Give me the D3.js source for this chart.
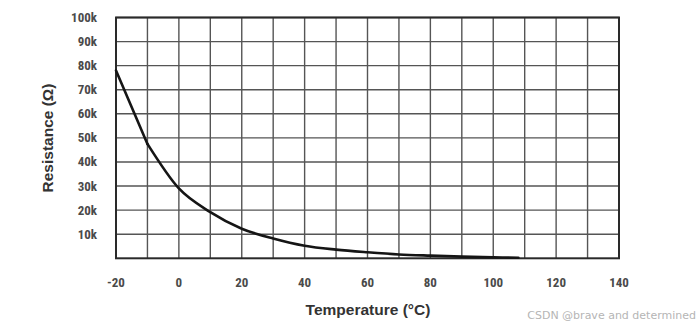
<!DOCTYPE html>
<html>
<head>
<meta charset="utf-8">
<script src="https://cdn.jsdelivr.net/npm/d3@7/dist/d3.min.js"></script>
<style>
  html, body { margin: 0; padding: 0; background: #fff; }
  svg { display: block; }
  .tick-label { font-family: "Liberation Sans Narrow", "Roboto Condensed", "Liberation Sans", sans-serif; font-weight: bold; font-size: 13px; fill: #4a4a4a; }
  .axis-title { font-family: "Liberation Sans Narrow", "Liberation Sans", sans-serif; font-weight: bold; font-size: 15.5px; fill: #333; }
</style>
</head>
<body>
<svg id="chart" width="698" height="330"></svg>
<script>
// NTC thermistor resistance vs temperature
const temperatures = [-20, -10, 0, 10, 20, 30, 40, 50, 60, 70, 80, 90, 100, 108];
const resistanceK  = [78, 47.5, 29, 19.2, 12.3, 8.2, 5.2, 3.6, 2.5, 1.6, 1.1, 0.7, 0.4, 0.2];

const xTicks = [-20, 0, 20, 40, 60, 80, 100, 120, 140];
const xGrid  = d3.range(-20, 141, 10);
const yTicks = [10, 20, 30, 40, 50, 60, 70, 80, 90, 100];
const yTickLabels = ["10k", "20k", "30k", "40k", "50k", "60k", "70k", "80k", "90k", "100k"];

const plotLeft = 116, plotRight = 619, plotTop = 17.5, plotBottom = 258.3;

const svg = d3.select("#chart");
const x = d3.scaleLinear().domain([-20, 140]).range([plotLeft, plotRight]);
const y = d3.scaleLinear().domain([0, 100]).range([plotBottom, plotTop]);

// grid
svg.append("g").selectAll("line").data(xGrid).join("line")
  .attr("x1", d => x(d)).attr("x2", d => x(d))
  .attr("y1", plotTop).attr("y2", plotBottom)
  .attr("stroke", "#555").attr("stroke-width", 1.4);
svg.append("g").selectAll("line").data(yTicks).join("line")
  .attr("x1", plotLeft).attr("x2", plotRight)
  .attr("y1", d => y(d)).attr("y2", d => y(d))
  .attr("stroke", "#555").attr("stroke-width", 1.4);

// frame
svg.append("rect")
  .attr("x", plotLeft).attr("y", plotTop)
  .attr("width", plotRight - plotLeft).attr("height", plotBottom - plotTop)
  .attr("fill", "none").attr("stroke", "#2a2a2a").attr("stroke-width", 2);

// curve: straight first segment, smooth from -10 °C on
const pts = temperatures.map((t, i) => [t, resistanceK[i]]);
const curveGroup = svg.append("g")
  .attr("fill", "none")
  .attr("stroke", "#151515")
  .attr("stroke-width", 2.6)
  .attr("stroke-linejoin", "round")
  .attr("stroke-linecap", "round");
curveGroup.append("path")
  .attr("d", d3.line().x(d => x(d[0])).y(d => y(d[1])).curve(d3.curveLinear)(pts.slice(0, 2)));
curveGroup.append("path")
  .attr("d", d3.line().x(d => x(d[0])).y(d => y(d[1])).curve(d3.curveMonotoneX)(pts.slice(1)));

// tick labels
svg.append("g").selectAll("text").data(xTicks).join("text")
  .attr("class", "tick-label")
  .attr("x", d => x(d)).attr("y", 287)
  .attr("text-anchor", "middle")
  .text(d => d);
svg.append("g").selectAll("text").data(yTicks).join("text")
  .attr("class", "tick-label")
  .attr("x", 97).attr("y", d => y(d) + 4.5)
  .attr("text-anchor", "end")
  .text((d, i) => yTickLabels[i]);

// axis titles
svg.append("text").attr("class", "axis-title")
  .attr("x", 368).attr("y", 315)
  .attr("text-anchor", "middle")
  .text("Temperature (°C)");
svg.append("text").attr("class", "axis-title")
  .attr("transform", "translate(53,138) rotate(-90)")
  .attr("text-anchor", "middle")
  .text("Resistance (Ω)");

// credit line
svg.append("text")
  .attr("x", 696).attr("y", 319)
  .attr("text-anchor", "end")
  .attr("font-family", "DejaVu Sans, sans-serif")
  .attr("font-size", 11)
  .attr("fill", "#b5b5b5")
  .text("CSDN @brave and determined");
</script>
</body>
</html>
